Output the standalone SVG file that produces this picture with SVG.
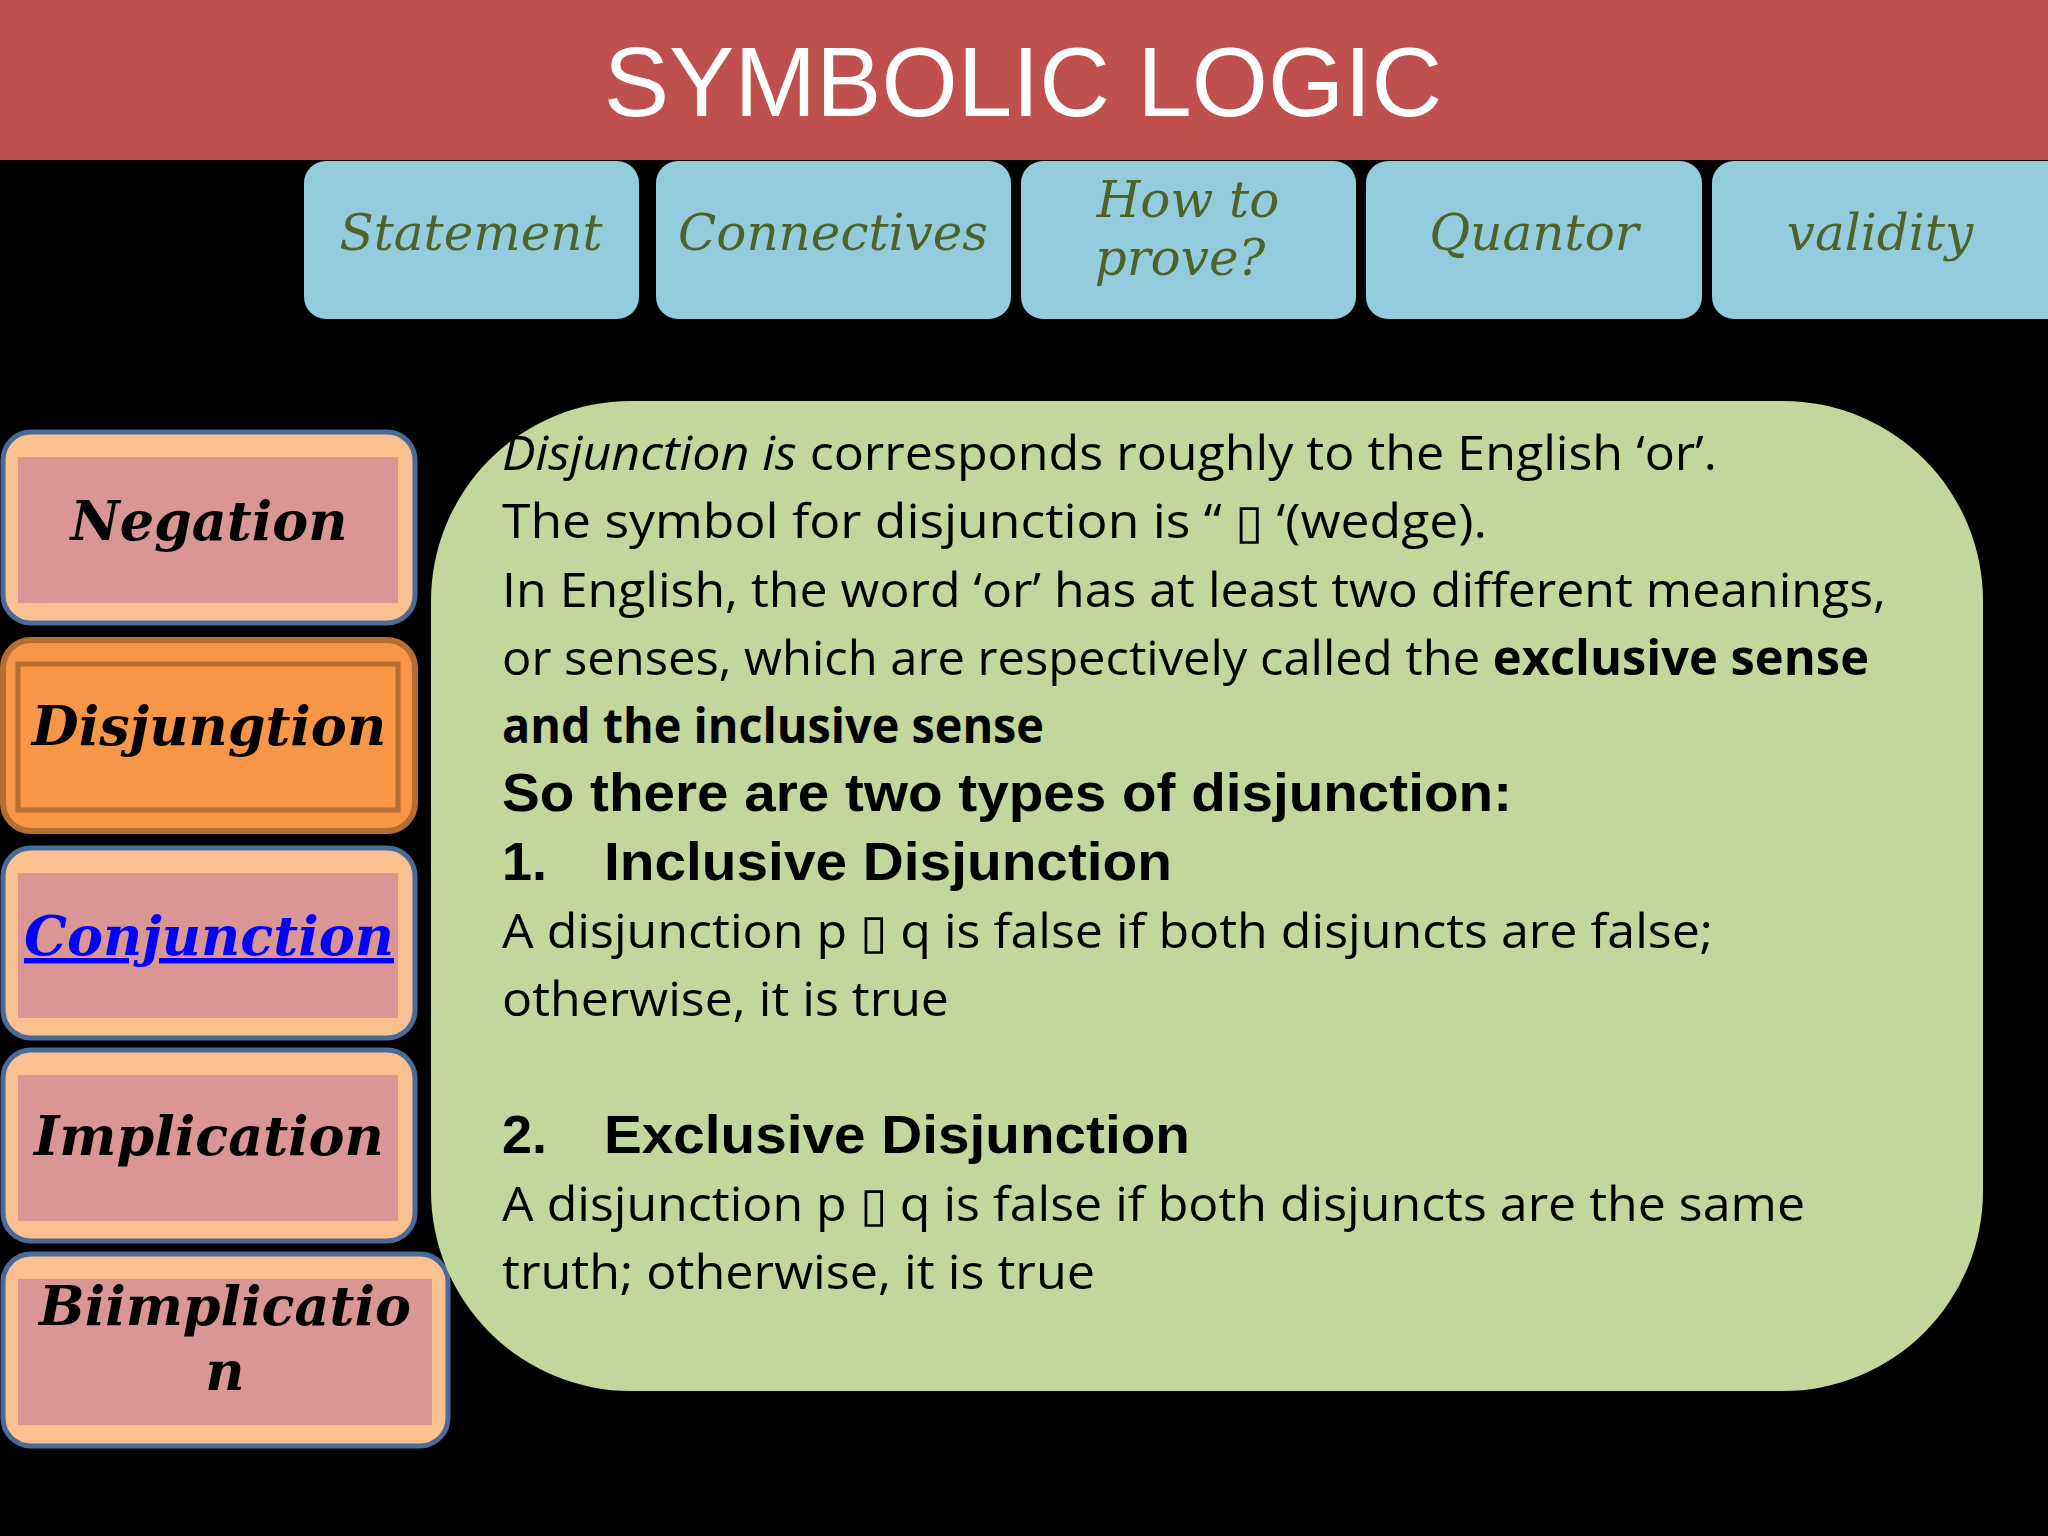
<svg xmlns="http://www.w3.org/2000/svg" width="2048" height="1536" viewBox="0 0 2048 1536">
<style>
.tab{fill:#93CDDD;}
.tt{font-family:"DejaVu Serif",serif;font-style:italic;font-size:50px;fill:#4F6228;text-anchor:middle}
.side{fill:#FAC090;stroke:#4A6A9A;stroke-width:5}
.in{fill:#D99694}
.st{font-family:"DejaVu Serif",serif;font-style:italic;font-weight:bold;font-size:54px;fill:#000;text-anchor:middle}
.b{font-family:"Open Sans",sans-serif;font-size:48px;fill:#000}
.h{font-family:"Liberation Sans",Arial,sans-serif;font-weight:bold;font-size:54px;fill:#000}
</style>
<rect width="2048" height="1536" fill="#000"/>
<g id="title"><rect width="2048" height="160" fill="#C0504D"/>
<text x="1023" y="116" font-family="Liberation Sans,Arial,sans-serif" font-size="98" fill="#fff" text-anchor="middle">SYMBOLIC LOGIC</text></g>
<g id="tab1"><rect class="tab" x="304" y="161" width="335" height="158" rx="22"/><text class="tt" x="471" y="250">Statement</text></g>
<g id="tab2"><rect class="tab" x="656" y="161" width="355" height="158" rx="22"/><text class="tt" x="833" y="250">Connectives</text></g>
<g id="tab3"><rect class="tab" x="1021" y="161" width="335" height="158" rx="22"/><text class="tt" x="1188" y="217">How to</text><text class="tt" x="1180" y="275">prove?</text></g>
<g id="tab4"><rect class="tab" x="1366" y="161" width="336" height="158" rx="22"/><text class="tt" x="1534" y="250">Quantor</text></g>
<g id="tab5"><rect class="tab" x="1712" y="161" width="360" height="158" rx="22"/><text class="tt" x="1880" y="250">validity</text></g>
<g id="negation"><rect class="side" x="3" y="432" width="412" height="191" rx="28"/><rect class="in" x="18" y="457" width="380" height="146"/><text class="st" x="209" y="540">Negation</text></g>
<g id="disjungtion"><rect x="3" y="640" width="412" height="191" rx="28" fill="#F79646" stroke="#B66D31" stroke-width="6"/><rect x="18" y="664" width="380" height="146" fill="#F79646" stroke="#B66D31" stroke-width="5"/><text class="st" x="209" y="745">Disjungtion</text></g>
<g id="conjunction"><rect class="side" x="3" y="848" width="412" height="190" rx="28"/><rect class="in" x="18" y="873" width="380" height="145"/><text class="st" x="209" y="955" fill="#0000FF" style="fill:#0000FF" text-decoration="underline">Conjunction</text></g>
<g id="implication"><rect class="side" x="3" y="1050" width="412" height="191" rx="28"/><rect class="in" x="18" y="1075" width="380" height="146"/><text class="st" x="209" y="1155">Implication</text></g>
<g id="biimplication"><rect class="side" x="3" y="1254" width="445" height="192" rx="28"/><rect class="in" x="18" y="1279" width="414" height="146"/><text class="st" x="225" y="1325">Biimplicatio</text><text class="st" x="225" y="1390">n</text></g>
<g id="content"><rect x="431" y="401" width="1552" height="990" rx="200" fill="#C3D69B"/>
<text class="b" x="502" y="470" textLength="1215" lengthAdjust="spacingAndGlyphs"><tspan font-style="italic">Disjunction is</tspan> corresponds roughly to the English ‘or’.</text>
<text class="b" x="502" y="538" textLength="985" lengthAdjust="spacingAndGlyphs">The symbol for disjunction is “ ▯   ‘(wedge).</text>
<text class="b" x="502" y="607" textLength="1384" lengthAdjust="spacingAndGlyphs">In English, the word ‘or’ has at least two different meanings,</text>
<text class="b" x="502" y="675" textLength="1367" lengthAdjust="spacingAndGlyphs">or senses, which are respectively called the <tspan font-weight="bold">exclusive sense</tspan></text>
<text class="b" x="502" y="743" font-weight="bold" textLength="542" lengthAdjust="spacingAndGlyphs">and the inclusive sense</text>
<text class="h" x="502" y="811" textLength="1010" lengthAdjust="spacingAndGlyphs">So there are two types of disjunction:</text>
<text class="h" x="502" y="880">1.</text><text class="h" x="604" y="880" textLength="568" lengthAdjust="spacingAndGlyphs">Inclusive Disjunction</text>
<text class="b" x="502" y="948" textLength="1211" lengthAdjust="spacingAndGlyphs">A disjunction p ▯    q is false if both disjuncts are false;</text>
<text class="b" x="502" y="1016" textLength="447" lengthAdjust="spacingAndGlyphs">otherwise, it is true</text>
<text class="h" x="502" y="1153">2.</text><text class="h" x="604" y="1153" textLength="586" lengthAdjust="spacingAndGlyphs">Exclusive Disjunction</text>
<text class="b" x="502" y="1221" textLength="1303" lengthAdjust="spacingAndGlyphs">A disjunction p ▯    q is false if both disjuncts are the same</text>
<text class="b" x="502" y="1289" textLength="593" lengthAdjust="spacingAndGlyphs">truth; otherwise, it is true</text>
</g>
<g id="connectors"/>
</svg>
